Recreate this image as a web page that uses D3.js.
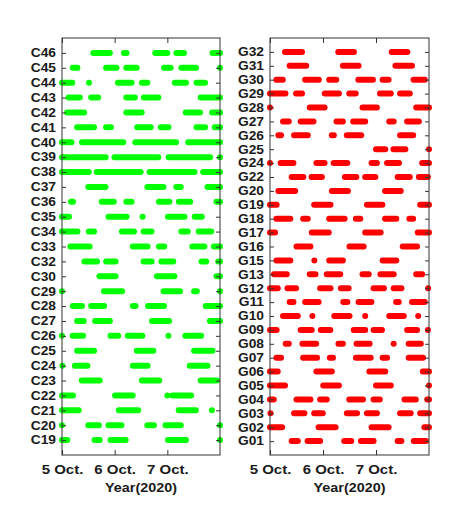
<!DOCTYPE html>
<html>
<head>
<meta charset="utf-8">
<script src="https://cdn.jsdelivr.net/npm/d3@7"></script>
<style>
  body { margin: 0; background: #fff; }
  text { font-family: "Liberation Sans", Arial, sans-serif; font-weight: bold; fill: #1a1a1a; }
</style>
</head>
<body>
<svg id="chart"></svg>
<script>
// hours since 5 Oct 00:00, one row per satellite (top row first)
const cLabels = ["C46","C45","C44","C43","C42","C41","C40","C39","C38","C37","C36","C35","C34","C33",
  "C32","C30","C29","C28","C27","C26","C25","C24","C23","C22","C21","C20","C19"];
const cSegments = [
  [[14.3,21.8],[28.2,29.4],[42.5,48],[52.1,55.6],[68.6,72]],
  [[4.9,7],[20.1,24.8],[29.3,34],[46.5,49.5],[54.4,61.1],[72,72]],
  [[0,4.7],[12.3,12.3],[25.5,31.7],[36.4,38.9],[51.4,56.5],[61.3,65.2]],
  [[3,8.1],[13.3,16.5],[29.3,33.2],[37.3,43.9],[63.2,72]],
  [[2.3,10.1],[29.3,36.3],[56.4,62.9],[68.4,72]],
  [[6.9,14.6],[20.1,22.3],[34.3,40.4],[45,48.5],[61.3,65.2],[69.6,72]],
  [[0,4.3],[9.1,27.9],[33.4,52],[57.5,72]],
  [[0,19.9],[23.9,43.9],[48.6,67.5],[72,72]],
  [[0,12.2],[15.8,35.8],[39.9,60.4],[64.3,72]],
  [[12,19.8],[38.9,46.2],[52.1,54.1],[66.3,72]],
  [[4.1,5],[18.1,23.6],[29.3,31.7],[44.2,48.9],[53.3,58.4],[70.4,72]],
  [[0,3.2],[21.2,29.4],[36.7,36.7],[48.3,55.8],[60.5,63.7]],
  [[0,7],[12.2,14.6],[27.3,32.8],[37.2,40.8],[54.4,57.3],[62.3,68]],
  [[3.8,12.6],[32.3,39],[44.2,46.6],[59.4,64.9],[69.2,72]],
  [[10.2,16],[20.1,24.4],[37.2,40.8],[45.3,50.7],[63.6,65.7],[71.2,72]],
  [[17.1,24.4],[43.3,51.2],[70.4,72]],
  [[0,0],[19.1,27.4],[46.3,53.8],[60.2,61.4],[72,72]],
  [[4.9,9.1],[13.3,19.2],[32.3,33.5],[39.2,46.5],[65.5,72]],
  [[6.9,9.9],[15.1,21.8],[41,48.8],[67.4,72]],
  [[0,0],[4.9,9.6],[22.1,25.6],[30,36.6],[48.5,48.5],[56.2,63.4]],
  [[6.9,14.6],[34.1,41.6],[60.2,68.6]],
  [[0.2,0.2],[5.9,11.6],[32.3,39],[58.2,66.3]],
  [[9,17.2],[36.4,44.3],[63.2,70.6]],
  [[0,5],[24.2,32.2],[48,48],[50.3,58.8]],
  [[0,7.6],[25.9,34.7],[53.2,61],[68.3,68.3]],
  [[0,0],[12,16.8],[21.2,27.1],[38.9,41.9],[47.2,54.1],[72,72]],
  [[0,2.4],[14.8,17.2],[22.1,29],[48.3,56.5],[72,72]]
];

const gLabels = ["G32","G31","G30","G29","G28","G27","G26","G25","G24","G22","G20","G19","G18","G17",
  "G16","G15","G13","G12","G11","G10","G09","G08","G07","G06","G05","G04","G03","G02","G01"];
const gSegments = [
  [[6.8,14.5],[30.9,38],[55.1,62.2]],
  [[8.9,16.4],[33,40.1],[56.8,64.3]],
  [[2.9,5.8],[15.9,22.1],[26.8,30],[40,46.6],[51,53.7],[65,70.1]],
  [[0,7],[11.8,14.5],[24.8,31.2],[35.9,38.8],[49.8,54.7],[58.9,63.3]],
  [[0,0],[18,24.7],[41.9,48.4],[66.2,72]],
  [[5.9,8.5],[13.9,19.7],[30.1,33],[37.7,43.1],[54,56],[62.1,67.4]],
  [[3.8,5],[10.9,17.1],[28,28.9],[34.8,41.3],[58.9,64.8]],
  [[48,52.2],[55.9,61.3],[72,72]],
  [[0,0],[4.8,10.6],[21,24.7],[28.8,35],[46,48.4],[53,58.4],[68.9,72]],
  [[9.8,15.1],[18.8,23.5],[33.9,39.1],[43.1,47.7],[57.8,63.3],[67.4,71.5]],
  [[3.8,11.4],[28,35.3],[52.1,59.2]],
  [[0,3],[20,27.4],[43.9,50.9],[68,72]],
  [[2.9,9.2],[15,17.1],[26.8,33.8],[38.9,40.9],[52.1,57.2],[63.1,64.8]],
  [[0,2.3],[18.9,26.6],[43.1,50.1],[66.9,72]],
  [[12,18.3],[36,42.4],[60.1,66.6]],
  [[2.9,9.2],[20.1,20.1],[26.8,33],[51,57.2]],
  [[1.8,7.6],[18,20.6],[25.7,31.8],[41.9,44.7],[50,56],[66.2,68.9]],
  [[0,3.5],[7.9,11.8],[22.7,27.4],[32.1,35.6],[46.9,51.6],[56,59.5],[71.6,71.6]],
  [[8.9,10.6],[15.9,22],[33.2,35],[40.1,45.9],[57.1,58.3],[64.3,70.1]],
  [[5.9,12.6],[19.2,19.2],[29.1,36],[43.1,43.1],[54,60.6],[67.1,67.1]],
  [[0,3],[13.9,18.9],[23,27.3],[37.9,43.1],[46.9,50.7],[62.1,66.6],[71.5,71.5]],
  [[7.1,8.5],[14.7,20.9],[31,33],[39.2,45.1],[56,56],[62.8,68.3]],
  [[2.9,5],[15,21.3],[27.1,28.5],[38.9,45.6],[51,53],[62.8,69.3]],
  [[0,3.5],[21,28],[45,52.2],[69.2,72]],
  [[0,6.8],[24.1,31.2],[48,54.7],[72,72]],
  [[0,1.7],[12,18.3],[22.7,25.7],[35.9,42.1],[46.9,49.7],[60.9,66],[71.2,72]],
  [[0.2,0.2],[10.9,15.6],[20,23.9],[34.8,39.4],[43.9,48.4],[58.9,63.7],[68,72]],
  [[0,5.5],[22,29.7],[46,53.7],[69.9,72]],
  [[9.8,12.6],[17,22.7],[33.6,36.8],[41.2,46.9],[57.8,59.5],[65.1,70.6]]
];

const xTicks = [0, 24, 48];
const xTickLabels = ["5 Oct.", "6 Oct.", "7 Oct."];
const xDomain = [0, 72];

const width = 474, height = 513;
const svg = d3.select("#chart").attr("width", width).attr("height", height);

function drawPanel(labels, segments, color, left, right) {
  const top = 38, bottom = 455;
  const g = svg.append("g");

  const x = d3.scaleLinear().domain(xDomain).range([left, right]);
  const y = d3.scalePoint().domain(labels).range([top, bottom]).padding(1);

  // visibility segments
  labels.forEach((lab, i) => {
    g.selectAll(null)
      .data(segments[i])
      .join("line")
        .attr("x1", d => x(d[0]))
        .attr("x2", d => x(d[1]))
        .attr("y1", y(lab))
        .attr("y2", y(lab))
        .attr("stroke", color)
        .attr("stroke-width", 6)
        .attr("stroke-linecap", "round");
  });

  // axes with inward ticks
  const yAxis = g.append("g")
    .attr("transform", `translate(${left},0)`)
    .call(d3.axisLeft(y).tickSize(-4).tickPadding(5));
  yAxis.selectAll("text")
    .style("font-size", "12px")
    .attr("transform", "scale(1.15,1)")
    .attr("x", -6 / 1.15);

  g.append("g")
    .attr("transform", `translate(${right},0)`)
    .call(d3.axisRight(y).tickSize(-4).tickFormat(""));

  const xAxis = g.append("g")
    .attr("transform", `translate(0,${bottom})`)
    .call(d3.axisBottom(x).tickValues(xTicks).tickSize(-5)
      .tickFormat((d, i) => xTickLabels[i]).tickPadding(10));
  xAxis.selectAll("text")
    .style("font-size", "12.5px")
    .attr("transform", "scale(1.2,1)");

  g.append("g")
    .attr("transform", `translate(0,${top})`)
    .call(d3.axisTop(x).tickValues(xTicks).tickSize(-5).tickFormat(""));

  g.selectAll(".domain").remove();
  g.selectAll(".tick line").attr("stroke", "#333");

  g.append("rect")
    .attr("x", left).attr("y", top)
    .attr("width", right - left).attr("height", bottom - top)
    .attr("fill", "none").attr("stroke", "#333").attr("stroke-width", 1);

  g.append("text")
    .attr("transform", `translate(${(left + right) / 2},492) scale(1.15,1)`)
    .attr("text-anchor", "middle")
    .style("font-size", "12.5px")
    .text("Year(2020)");
}

drawPanel(cLabels, cSegments, "#00ff00", 62, 220);
drawPanel(gLabels, gSegments, "#ff0000", 270, 429);
</script>
</body>
</html>
